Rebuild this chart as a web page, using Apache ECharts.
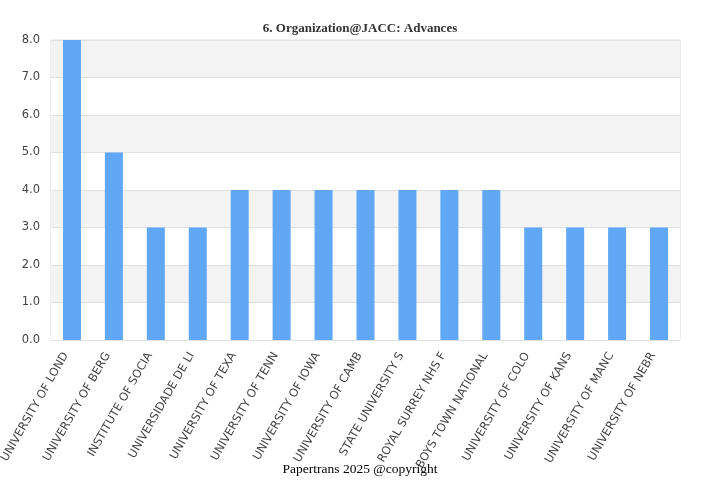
<!DOCTYPE html>
<html>
<head>
<meta charset="utf-8">
<script src="https://cdn.jsdelivr.net/npm/echarts@6/dist/echarts.min.js"></script>
<style>
  html, body { margin: 0; padding: 0; background: #fff; }
  #chart { width: 720px; height: 480px; }
</style>
</head>
<body>
<div id="chart"></div>
<script>
    // organizations (names truncated as in source)
    var categories = ['UNIVERSITY OF LOND', 'UNIVERSITY OF BERG', 'INSTITUTE OF SOCIA', 'UNIVERSIDADE DE LI',
        'UNIVERSITY OF TEXA', 'UNIVERSITY OF TENN', 'UNIVERSITY OF IOWA', 'UNIVERSITY OF CAMB',
        'STATE UNIVERSITY S', 'ROYAL SURREY NHS F', 'BOYS TOWN NATIONAL', 'UNIVERSITY OF COLO',
        'UNIVERSITY OF KANS', 'UNIVERSITY OF MANC', 'UNIVERSITY OF NEBR'];
    var counts = [8, 5, 3, 3, 4, 4, 4, 4, 4, 4, 4, 3, 3, 3, 3];

    var myChart = echarts.init(document.getElementById('chart'));
    myChart.setOption({
        animation: false,
        title: [{
            text: '6. Organization@JACC: Advances',
            left: 'center',
            top: 17,
            textStyle: {
                fontFamily: 'Liberation Serif',
                fontSize: 13,
                fontWeight: 'bold',
                color: '#333'
            }
        }, {
            text: 'Papertrans 2025 @copyright',
            left: 'center',
            top: 457,
            textStyle: {
                fontFamily: 'Liberation Serif',
                fontSize: 13.5,
                fontWeight: 'normal',
                color: '#000'
            }
        }],
        grid: {
            left: 51,
            right: 40,
            top: 40,
            bottom: 140,
            outerBoundsMode: 'none',
            containLabel: false,
            show: true,
            borderColor: '#dcdcdc',
            borderWidth: 1
        },
        xAxis: {
            type: 'category',
            data: categories,
            axisLine: { show: false },
            axisTick: { show: false },
            axisLabel: {
                interval: 0,
                rotate: 60,
                margin: 3,
                padding: [0, 12, 14, 0],
                fontFamily: 'DejaVu Sans',
                fontSize: 11.5,
                color: '#444'
            }
        },
        yAxis: {
            type: 'value',
            min: 0,
            max: 8,
            interval: 1,
            axisLine: { show: false },
            axisTick: { show: false },
            axisLabel: {
                margin: 11,
                fontFamily: 'DejaVu Sans',
                fontSize: 11.5,
                color: '#444',
                formatter: function (v) { return v.toFixed(1); }
            },
            splitLine: { lineStyle: { color: '#e0e0e0' } },
            splitArea: { show: true, areaStyle: { color: ['#ffffff', '#f3f3f3'] } }
        },
        series: [{
            type: 'bar',
            data: counts,
            barWidth: '43%',
            itemStyle: { color: '#60a8f6' }
        }]
    });
</script>
</body>
</html>
